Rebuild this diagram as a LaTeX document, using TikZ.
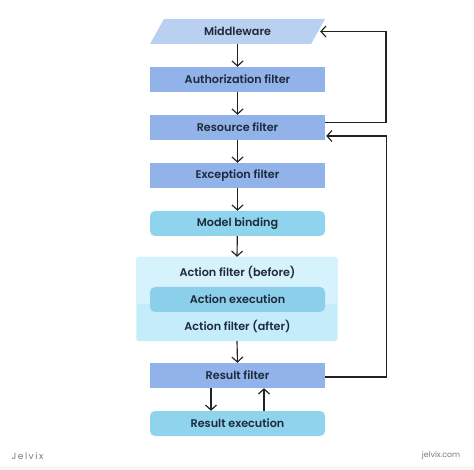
\documentclass[tikz,border=0pt]{standalone}
\usepackage{fontspec}
\setmainfont{Poppins}[BoldFont={Poppins SemiBold}]
\usetikzlibrary{arrows.meta,calc}
\definecolor{txt}{HTML}{1E2A3A}
\definecolor{filt}{HTML}{91B3EA}
\definecolor{mwc}{HTML}{B9D0F0}
\definecolor{cyanbox}{HTML}{8FD4EC}
\definecolor{grptop}{HTML}{D6F2FC}
\definecolor{grpbot}{HTML}{C4ECFB}
\definecolor{aec}{HTML}{8CCFEA}
\definecolor{ln}{HTML}{222222}
\definecolor{logo}{HTML}{7A7A7A}
\tikzset{
  lbl/.style={text=txt,font=\bfseries\fontsize{11.2}{13}\selectfont,inner sep=0pt},
  filterbox/.style={lbl,fill=filt,minimum width=175pt,minimum height=25pt},
  cyanrnd/.style={lbl,fill=cyanbox,minimum width=175pt,minimum height=25pt,rounded corners=5pt},
  conn/.style={draw=ln,line width=1.15pt,-{Straight Barb[length=5pt,width=11pt,line width=1.15pt]}},
}
\begin{document}
\begin{tikzpicture}[x=1pt,y=-1pt]
\useasboundingbox (0,0) rectangle (474,470);
\fill[white] (0,0) rectangle (474,470);
\fill[black!3] (0,466) rectangle (474,470);
% middleware parallelogram
\fill[mwc] (150,44) -- (164,19) -- (325,19) -- (311,44) -- cycle;
\node[lbl,minimum width=165pt,minimum height=25pt] (mw) at (237.5,31.5) {Middleware};
\node[filterbox] (auth) at (237.5,79.5) {Authorization filter};
\node[filterbox] (res) at (237.5,127.5) {Resource filter};
\node[filterbox] (exc) at (237.5,175.5) {Exception filter};
\node[cyanrnd] (mb) at (237.5,223.5) {Model binding};
% action group
\node[minimum width=201pt,minimum height=84pt,inner sep=0pt] (grp) at (237,299) {};
\fill[grpbot,rounded corners=3pt] (grp.south west) rectangle (grp.north east);
\fill[grptop,rounded corners=3pt] (grp.north west) rectangle ($(grp.east)+(0,5)$);
\fill[grptop] ($(grp.west)+(0,-5)$) rectangle (grp.east);
\node[cyanrnd,fill=aec] (ae) at (237.5,299.5) {Action execution};
\node[lbl] (afb) at (237.5,272) {Action filter (before)};
\node[lbl] (afa) at (237.5,326) {Action filter (after)};
\node[filterbox] (rf) at (237.5,375.5) {Result filter};
\node[cyanrnd] (re) at (237.5,423.5) {Result execution};
% logos
\node[text=logo,font=\fontsize{9}{10}\selectfont,inner sep=0pt] (jl) at (27.5,456) {J\,e\,l\,v\,i\,x};
\node[text=logo,font=\fontsize{7.8}{9}\selectfont,inner sep=0pt] (jc) at (441,456) {jelvix.com};
% connectors
\draw[conn] (mw.south) -- (auth.north);
\draw[conn] (auth) -- (res);
\draw[conn] (res) -- (exc);
\draw[conn] (exc) -- (mb);
\draw[conn] (mb) -- (grp.north);
\draw[conn] (grp.south) -- (rf.north);
\draw[conn] ($(rf.south)+(-26.5,0)$) -- ($(re.north)+(-26.5,0)$);
\draw[conn] ($(re.north)+(26.5,0)$) -- ($(rf.south)+(26.5,0)$);
\draw[conn] ($(res.east)+(0,-5)$) -| (386,31.5) -- (mw.east);
\draw[conn] ($(rf.east)+(0,1.5)$) -| (386.5,136) -- ($(res.east)+(1,8.5)$);
\end{tikzpicture}
\end{document}
